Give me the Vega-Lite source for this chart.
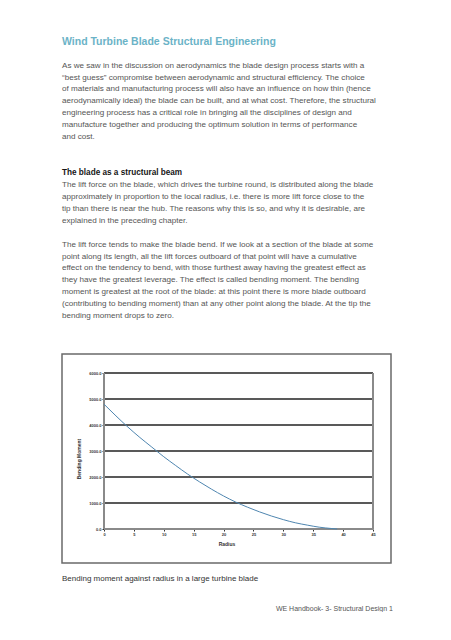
{
  "$schema": "https://vega.github.io/schema/vega-lite/v6.json",
  "description": "Wind turbine handbook page: bending moment against radius in a large turbine blade.",
  "background": "white",
  "padding": {"left": 61, "top": 0, "right": 0, "bottom": 0},
  "spacing": 1,
  "datasets": {
    "page": [
      {"block": "title", "line": -2, "text": "Wind Turbine Blade Structural Engineering"},
      {"block": "body", "line": 0, "text": "As we saw in the discussion on aerodynamics the blade design process starts with a"},
      {"block": "body", "line": 1, "text": "“best guess” compromise between aerodynamic and structural efficiency.  The choice"},
      {"block": "body", "line": 2, "text": "of materials and manufacturing process will also have an influence on how thin (hence"},
      {"block": "body", "line": 3, "text": "aerodynamically ideal) the blade can be built, and at what cost. Therefore, the structural"},
      {"block": "body", "line": 4, "text": "engineering process has a critical role in bringing all the disciplines of design and"},
      {"block": "body", "line": 5, "text": "manufacture together and producing the optimum solution in terms of performance"},
      {"block": "body", "line": 6, "text": "and cost."},
      {"block": "heading", "line": 9, "text": "The blade as a structural beam"},
      {"block": "body", "line": 10, "text": "The lift force on the blade, which drives the turbine round, is distributed along the blade"},
      {"block": "body", "line": 11, "text": "approximately in proportion to the local radius, i.e. there is more lift force close to the"},
      {"block": "body", "line": 12, "text": "tip than there is near the hub.   The reasons why this is so, and why it is desirable, are"},
      {"block": "body", "line": 13, "text": "explained in the preceding chapter."},
      {"block": "body", "line": 15, "text": "The lift force tends to make the blade bend.  If we look at a section of the blade at some"},
      {"block": "body", "line": 16, "text": "point along its length, all the lift forces outboard of that point will have a cumulative"},
      {"block": "body", "line": 17, "text": "effect on the tendency to bend, with those furthest away having the greatest effect as"},
      {"block": "body", "line": 18, "text": "they have the greatest leverage.  The effect is called bending moment.  The bending"},
      {"block": "body", "line": 19, "text": "moment is greatest at the root of the blade: at this point there is more blade outboard"},
      {"block": "body", "line": 20, "text": "(contributing to bending moment) than at any other point along the blade.  At the tip the"},
      {"block": "body", "line": 21, "text": "bending moment drops to zero."}
    ],
    "moment": [
      {"r": 0, "m": 4800},
      {"r": 2, "m": 4350},
      {"r": 4, "m": 3920},
      {"r": 6, "m": 3520},
      {"r": 8, "m": 3150},
      {"r": 10, "m": 2780},
      {"r": 12, "m": 2440},
      {"r": 14, "m": 2110},
      {"r": 16, "m": 1810},
      {"r": 18, "m": 1530},
      {"r": 20, "m": 1270},
      {"r": 22, "m": 1040},
      {"r": 24, "m": 840},
      {"r": 26, "m": 660},
      {"r": 28, "m": 500},
      {"r": 30, "m": 360},
      {"r": 32, "m": 240},
      {"r": 34, "m": 150},
      {"r": 36, "m": 70},
      {"r": 38, "m": 20},
      {"r": 39, "m": 0}
    ],
    "grid": [
      {"m": 1000, "from": 0, "to": 45},
      {"m": 2000, "from": 0, "to": 45},
      {"m": 3000, "from": 0, "to": 45},
      {"m": 4000, "from": 0, "to": 45},
      {"m": 5000, "from": 0, "to": 45},
      {"m": 6000, "from": 0, "to": 45}
    ],
    "frame": [
      {"kind": "baseline", "r": 0, "r2": 45, "m": 0, "m2": 0},
      {"kind": "left", "r": 0, "r2": 0, "m": 0, "m2": 6000},
      {"kind": "right", "r": 45, "r2": 45, "m": 0, "m2": 6000}
    ]
  },
  "vconcat": [
    {
      "width": 331,
      "height": 352,
      "data": {"name": "page"},
      "encoding": {
        "x": {"value": 0},
        "y": {"field": "line", "type": "quantitative", "axis": null,
              "scale": {"domain": [-5.5, 24], "reverse": true, "nice": false, "zero": false}},
        "text": {"field": "text"}
      },
      "layer": [
        {
          "transform": [{"filter": "datum.block == 'title'"}],
          "mark": {"type": "text", "align": "left", "baseline": "middle", "font": "Liberation Sans",
                   "fontSize": 10.5, "fontWeight": "bold", "color": "#6bb3c7"}
        },
        {
          "transform": [{"filter": "datum.block == 'heading'"}],
          "mark": {"type": "text", "align": "left", "baseline": "middle", "font": "Liberation Sans",
                   "fontSize": 8.2, "fontWeight": "bold", "color": "#151515"}
        },
        {
          "transform": [{"filter": "datum.block == 'body'"}],
          "mark": {"type": "text", "align": "left", "baseline": "middle", "font": "Liberation Sans",
                   "fontSize": 8.1, "color": "#555555"}
        }
      ]
    },
    {
      "width": 329,
      "height": 209,
      "view": {"stroke": "#6a6a6a", "strokeWidth": 1.5},
      "layer": [
        {
          "data": {"name": "grid"},
          "mark": {"type": "rule", "color": "#222222", "strokeWidth": 1.4},
          "encoding": {
            "x": {
              "field": "from", "type": "quantitative",
              "scale": {"domain": [-7.026, 48.011], "nice": false, "zero": false},
              "axis": {"title": "Radius", "values": [0, 5, 10, 15, 20, 25, 30, 35, 40, 45]}
            },
            "x2": {"field": "to"},
            "y": {
              "field": "m", "type": "quantitative",
              "scale": {"domain": [-1307.7, 6730.8], "nice": false, "zero": false},
              "axis": {"title": "Bending Moment", "values": [0, 1000, 2000, 3000, 4000, 5000, 6000], "format": ".1f"}
            }
          }
        },
        {
          "data": {"name": "frame"},
          "mark": {"type": "rule", "color": "#8a8a8a", "strokeWidth": 2},
          "encoding": {
            "x": {"field": "r", "type": "quantitative",
                  "axis": {"title": "Radius", "values": [0, 5, 10, 15, 20, 25, 30, 35, 40, 45]}},
            "x2": {"field": "r2"},
            "y": {"field": "m", "type": "quantitative",
                  "axis": {"title": "Bending Moment", "values": [0, 1000, 2000, 3000, 4000, 5000, 6000], "format": ".1f"}},
            "y2": {"field": "m2"}
          }
        },
        {
          "data": {"name": "moment"},
          "mark": {"type": "line", "color": "#4f86b0", "strokeWidth": 1, "interpolate": "monotone"},
          "encoding": {
            "x": {"field": "r", "type": "quantitative",
                  "axis": {"title": "Radius", "values": [0, 5, 10, 15, 20, 25, 30, 35, 40, 45]}},
            "y": {"field": "m", "type": "quantitative",
                  "axis": {"title": "Bending Moment", "values": [0, 1000, 2000, 3000, 4000, 5000, 6000], "format": ".1f"}}
          }
        }
      ]
    },
    {
      "width": 331,
      "height": 28,
      "title": {
        "text": "WE Handbook- 3- Structural Design   1",
        "orient": "bottom", "anchor": "end", "offset": 12, "frame": "group",
        "font": "Liberation Sans", "fontSize": 7, "fontWeight": "normal", "color": "#555555"
      },
      "data": {"values": [{"text": "Bending moment against radius in a large turbine blade"}]},
      "mark": {"type": "text", "align": "left", "baseline": "middle", "font": "Liberation Sans",
               "fontSize": 8, "color": "#333333"},
      "encoding": {"x": {"value": 0}, "text": {"field": "text"}}
    }
  ],
  "config": {
    "view": {"stroke": null},
    "axis": {
      "domain": false, "grid": false, "tickSize": 2, "tickColor": "#333333",
      "labelFont": "Liberation Sans", "labelFontSize": 4, "labelFontWeight": "bold", "labelColor": "#333333",
      "labelPadding": 1, "labelFlush": false, "labelOverlap": false,
      "titleFont": "Liberation Sans", "titleFontSize": 5, "titleFontWeight": "bold", "titleColor": "#333333"
    },
    "axisX": {"offset": -34, "titlePadding": 5},
    "axisY": {"offset": -42, "titlePadding": 7}
  }
}
